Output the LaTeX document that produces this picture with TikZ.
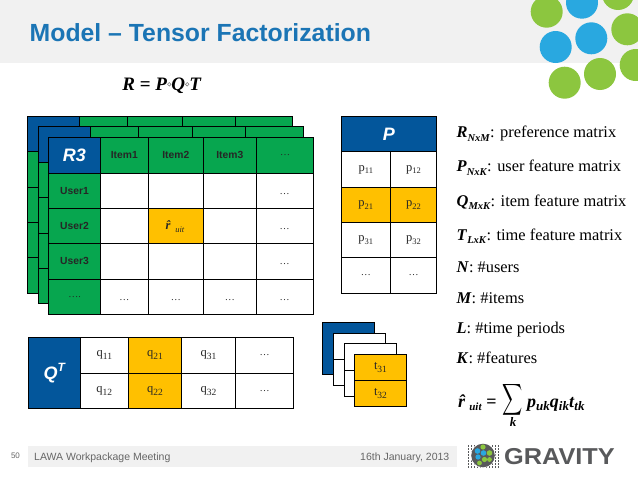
\documentclass[tikz,border=0pt]{standalone}
\usepackage{fontspec}
\setmainfont{Liberation Serif}
\setsansfont{Liberation Sans}
\definecolor{bandgray}{HTML}{F1F1F1}
\definecolor{titleblue}{HTML}{1B75B5}
\definecolor{deepblue}{HTML}{03569B}
\definecolor{tgreen}{HTML}{07A64F}
\definecolor{torange}{HTML}{FFC000}
\definecolor{cgreen}{HTML}{8CC63F}
\definecolor{cblue}{HTML}{29A8E0}
\definecolor{footgray}{HTML}{666666}
\definecolor{logogray}{HTML}{58595B}
\definecolor{darktext}{HTML}{262626}
\newcommand{\mv}[1]{\textbf{\textit{#1}}}
\newcommand{\lsub}[2]{\raisebox{-0.22em}{\fontsize{#1}{#1}\selectfont #2}}
\newcommand{\cdotring}{\raisebox{0.3em}{\tikz[baseline]\draw[gray,line width=0.6pt] (0,0) circle (1.8pt);}}
\newcommand{\cell}[5][]{\draw[gridline,fill=#2] (#3) rectangle (#4);\node[#1] at ($(#3)!0.5!(#4)$) {#5};}
\usetikzlibrary{calc}
\tikzset{
  gridline/.style={draw=black,line width=0.75pt},
  dot/.style={circle,inner sep=0pt,minimum size=32pt},
  head/.style={font=\sffamily\bfseries\fontsize{10.3}{12}\selectfont,text=darktext},
  whitehead/.style={font=\sffamily\bfseries\itshape\fontsize{18}{20}\selectfont,text=white},
  val/.style={font=\fontsize{12.5}{14}\selectfont,text=darktext},
  ell/.style={font=\fontsize{10}{12}\selectfont,text=darktext},
  legend/.style={anchor=base west,inner sep=0pt,font=\fontsize{16.4}{18}\selectfont,text=black},
  bigf/.style={anchor=base west,inner sep=0pt,font=\fontsize{18}{20}\selectfont,text=black},
}
\begin{document}
\begin{tikzpicture}[x=1pt,y=-1pt]
\useasboundingbox (0,0) rectangle (638,479);
\fill[white] (0,0) rectangle (638,479);
% bands
\fill[bandgray] (0,0) rectangle (638,63);
\fill[bandgray] (27.7,445.7) rectangle (456.7,466.7);
% circles
\foreach \n/\cx/\cy/\c in {a/546.7/11.7/cgreen,b/582/2.7/cblue,c/618/-6/cgreen,d/555.7/47/cblue,e/591.3/38.3/cblue,f/627.3/29.3/cgreen,g/564.7/82.7/cgreen,h/600/74/cgreen,i/635.7/65/cgreen}
  \node[dot,fill=\c] (dot\n) at (\cx,\cy) {};
% title
\node[anchor=base west,inner sep=0pt,font=\sffamily\bfseries\fontsize{24.8}{28}\selectfont,text=titleblue] (title) at (29.5,41.5) {Model – Tensor Factorization};
% formula
\node[anchor=base,inner sep=0pt,font=\fontsize{19}{20}\selectfont] (formula) at (162,90) {\mv{R} \textbf{=} \mv{P}\cdotring\mv{Q}\cdotring\mv{T}};
% back layer 1
\draw[gridline,fill=tgreen] (27.3,116) rectangle (292.7,293.3);
\draw[gridline,fill=deepblue] (27.3,116) rectangle (79.3,151.3);
\foreach \x in {127.3,182.3,235.3} \draw[gridline] (\x,116) -- (\x,130);
\foreach \y in {187.3,222.3,257.3} \draw[gridline] (27.3,\y) -- (40,\y);
% back layer 2
\draw[gridline,fill=tgreen] (38.3,126.7) rectangle (303.3,303.3);
\draw[gridline,fill=deepblue] (38.3,126.7) rectangle (90.7,162.3);
\foreach \x in {138.3,192.3,245.7} \draw[gridline] (\x,126.7) -- (\x,140);
\foreach \y in {197.3,233.3,268.3} \draw[gridline] (38.3,\y) -- (50,\y);
% front table R3
\def\colA{48.7}\def\colB{100.3}\def\colC{148.3}\def\colD{203.3}\def\colE{256.3}\def\colF{313.7}
\def\rowA{137.3}\def\rowB{173.3}\def\rowC{208.3}\def\rowD{243.3}\def\rowE{279.3}\def\rowF{314.7}
\cell[whitehead]{deepblue}{\colA,\rowA}{\colB,\rowB}{R3}
\cell[head]{tgreen}{\colB,\rowA}{\colC,\rowB}{Item1}
\cell[head]{tgreen}{\colC,\rowA}{\colD,\rowB}{Item2}
\cell[head]{tgreen}{\colD,\rowA}{\colE,\rowB}{Item3}
\cell[ell]{tgreen}{\colE,\rowA}{\colF,\rowB}{…}
\cell[head]{tgreen}{\colA,\rowB}{\colB,\rowC}{User1}
\cell[head]{tgreen}{\colA,\rowC}{\colB,\rowD}{User2}
\cell[head]{tgreen}{\colA,\rowD}{\colB,\rowE}{User3}
\cell[ell]{tgreen}{\colA,\rowE}{\colB,\rowF}{….}
\foreach \ya/\yb in {\rowB/\rowC,\rowC/\rowD,\rowD/\rowE,\rowE/\rowF}
  \foreach \xa/\xb in {\colB/\colC,\colC/\colD,\colD/\colE,\colE/\colF}
    \draw[gridline,fill=white] (\xa,\ya) rectangle (\xb,\yb);
\draw[gridline,fill=torange] (\colC,\rowC) rectangle (\colD,\rowD);
\node[val] at (175,226.5) {\mv{\^r}\,\lsub{8.5}{\textit{uit}}};
\foreach \x/\y in {284.6/194.5,284.6/229.5,284.6/264.5,284.6/300,124.3/300,175.8/300,229.8/300}
  \node[ell] at (\x,\y) {…};
% P table
\def\pA{341.3}\def\pB{390.3}\def\pC{436.7}
\cell[whitehead]{deepblue}{\pA,116.7}{\pC,151.7}{P}
\cell[val]{white}{\pA,151.7}{\pB,187.3}{p\lsub{8.5}{11}}
\cell[val]{white}{\pB,151.7}{\pC,187.3}{p\lsub{8.5}{12}}
\cell[val]{torange}{\pA,187.3}{\pB,222.3}{p\lsub{8.5}{21}}
\cell[val]{torange}{\pB,187.3}{\pC,222.3}{p\lsub{8.5}{22}}
\cell[val]{white}{\pA,222.3}{\pB,257.3}{p\lsub{8.5}{31}}
\cell[val]{white}{\pB,222.3}{\pC,257.3}{p\lsub{8.5}{32}}
\cell[ell]{white}{\pA,257.3}{\pB,293}{…}
\cell[ell]{white}{\pB,257.3}{\pC,293}{…}
% Q table
\def\qA{28.3}\def\qB{80.3}\def\qC{128.3}\def\qD{181.7}\def\qE{235.3}\def\qF{293.7}
\draw[gridline,fill=deepblue] (\qA,337.3) rectangle (\qB,408.3);
\node[whitehead] at (54.3,373) {Q\raisebox{0.45em}{\fontsize{12}{12}\selectfont T}};
\cell[val]{white}{\qB,337.3}{\qC,373.3}{q\lsub{9.5}{11}}
\cell[val]{torange}{\qC,337.3}{\qD,373.3}{q\lsub{9.5}{21}}
\cell[val]{white}{\qD,337.3}{\qE,373.3}{q\lsub{9.5}{31}}
\cell[ell]{white}{\qE,337.3}{\qF,373.3}{…}
\cell[val]{white}{\qB,373.3}{\qC,408.3}{q\lsub{9.5}{12}}
\cell[val]{torange}{\qC,373.3}{\qD,408.3}{q\lsub{9.5}{22}}
\cell[val]{white}{\qD,373.3}{\qE,408.3}{q\lsub{9.5}{32}}
\cell[ell]{white}{\qE,373.3}{\qF,408.3}{…}
% T stack
\draw[gridline,fill=deepblue] (322.3,322.3) rectangle (374.7,374.3);
\draw[gridline,fill=white] (333.3,333) rectangle (385.7,385.3);
\draw[gridline] (333.3,359.3) -- (345,359.3);
\draw[gridline,fill=white] (344,343.3) rectangle (396.7,396.7);
\draw[gridline] (344,370.3) -- (355,370.3);
\cell[val]{torange}{354.3,354.3}{406.7,380.7}{t\lsub{9.5}{31}}
\cell[val]{torange}{354.3,380.7}{406.7,406.7}{t\lsub{9.5}{32}}
% legend
\node[legend] at (456.5,137.5) {\mv{R}\lsub{10.5}{\mv{NxM}}: preference matrix};
\node[legend] at (456.5,171.5) {\mv{P}\lsub{10.5}{\mv{NxK}}: user feature matrix};
\node[legend] at (456.5,206) {\mv{Q}\lsub{10.5}{\mv{MxK}}: item feature matrix};
\node[legend] at (456.5,240) {\mv{T}\lsub{10.5}{\mv{LxK}}: time feature matrix};
\node[legend] at (456.5,272) {\mv{N}: \#users};
\node[legend] at (456.5,303) {\mv{M}: \#items};
\node[legend] at (456.5,333.5) {\mv{L}: \#time periods};
\node[legend] at (456.5,363.5) {\mv{K}: \#features};
\node[bigf] at (458,407) {\mv{\^r}\lsub{11}{\mv{uit}} \textbf{=}};
\node[inner sep=0pt,xscale=1.4,yscale=2.2] at (513,399.5) {$\displaystyle\sum$};
\node[inner sep=0pt,font=\fontsize{13}{14}\selectfont] at (513,421.5) {\mv{k}};
\node[bigf] at (527,407) {\mv{p}\lsub{13}{\mv{uk}}\mv{q}\lsub{13}{\mv{ik}}\mv{t}\lsub{13}{\mv{tk}}};
% footer
\node[inner sep=0pt,font=\sffamily\fontsize{8}{10}\selectfont,text=footgray] (page) at (15.5,456) {50};
\node[anchor=base west,inner sep=0pt,font=\sffamily\fontsize{10.5}{12}\selectfont,text=footgray] (meet) at (34,460) {LAWA Workpackage Meeting};
\node[anchor=base east,inner sep=0pt,font=\sffamily\fontsize{10.5}{12}\selectfont,text=footgray] (date) at (449.5,460) {16th January, 2013};
% logo
\foreach \i in {0,...,10} \foreach \j in {0,...,7}
  \fill[logogray] (467.5+\i*3,445+\j*3) rectangle +(1.8,1.8);
\fill[white] (483,455.5) circle (12.5);
\fill[logogray] (483,455.5) circle (11.8);
\fill[cgreen] (483,447) circle (2.6);
\fill[cblue] (477.5,451) circle (2.8);
\fill[cblue] (483.5,453) circle (2.8);
\fill[cblue] (478,457) circle (2.6);
\fill[cgreen] (489.5,453) circle (2.8);
\fill[cgreen] (484.5,459.5) circle (2.6);
\fill[cgreen] (479.5,463) circle (2.4);
\fill[cgreen] (489.5,459.5) circle (2.4);
\node[anchor=base west,inner sep=0pt,xscale=1.1,font=\sffamily\bfseries\fontsize{23}{24}\selectfont,text=logogray] (logo) at (504,464.5) {GRAVITY};
\end{tikzpicture}
\end{document}
